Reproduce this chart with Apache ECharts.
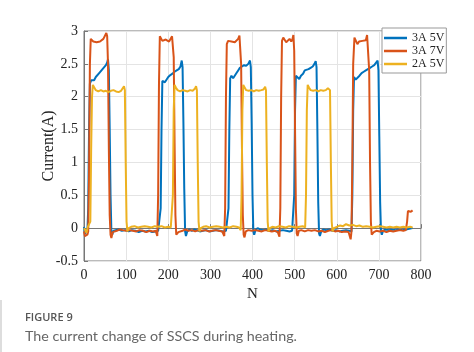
<!DOCTYPE html>
<html>
<head>
<meta charset="utf-8">
<script src="https://cdn.jsdelivr.net/npm/echarts@6/dist/echarts.min.js"></script>
<style>
html,body{margin:0;padding:0;background:#fff;}
#chart{width:474px;height:352px;}
</style>
</head>
<body>
<div id="chart"></div>
<script>
var seriesNames = ['3A 5V', '3A 7V', '2A 5V'];
var xTicks = [0, 100, 200, 300, 400, 500, 600, 700, 800];
var yTicks = [-0.5, 0, 0.5, 1, 1.5, 2, 2.5, 3];

var blueData = [[0,0.02],[2,-0.08],[5,-0.1],[8,-0.05],[10,0.3],[12,1.5],[14,2.2],[17,2.25],[20,2.22],[24,2.25],[28,2.3],[32,2.33],[36,2.36],[40,2.38],[44,2.42],[48,2.44],[52,2.48],[55,2.52],[57,2.57],[59,2.4],[61,1.5],[63,0.5],[65,-0.05],[67,-0.1],[70,-0.04],[75,-0.03],[82,-0.02],[90,-0.04],[98,-0.03],[106,-0.05],[114,-0.03],[122,-0.04],[130,-0.06],[138,-0.04],[146,-0.05],[154,-0.04],[162,-0.06],[170,-0.05],[176,-0.04],[180,-0.06],[182,0.3],[184,1.5],[186,2.24],[189,2.27],[192,2.22],[196,2.25],[200,2.3],[205,2.33],[210,2.35],[215,2.38],[220,2.4],[225,2.42],[229,2.46],[232,2.55],[234,2.45],[236,1.6],[238,0.6],[240,-0.05],[242,-0.12],[245,-0.05],[250,-0.02],[256,-0.04],[262,-0.02],[268,-0.03],[275,-0.05],[282,-0.04],[290,-0.03],[298,-0.05],[306,-0.04],[314,-0.03],[322,-0.04],[330,-0.05],[337,-0.04],[341,-0.06],[343,0.3],[345,1.5],[347,2.28],[350,2.32],[354,2.28],[358,2.3],[362,2.36],[366,2.4],[370,2.44],[375,2.46],[380,2.48],[385,2.47],[390,2.5],[394,2.55],[396,2.45],[398,1.6],[400,0.5],[402,-0.05],[404,-0.1],[407,-0.03],[412,0.0],[418,-0.02],[425,-0.03],[432,-0.02],[440,-0.04],[448,-0.03],[456,-0.05],[464,-0.04],[472,-0.03],[480,-0.04],[488,-0.05],[494,-0.04],[497,-0.06],[499,0.5],[501,1.8],[503,2.32],[507,2.3],[511,2.27],[515,2.32],[520,2.35],[524,2.4],[528,2.38],[533,2.42],[538,2.44],[543,2.46],[547,2.5],[550,2.54],[552,2.45],[554,1.5],[556,0.4],[558,-0.08],[560,-0.12],[563,-0.05],[568,-0.02],[575,-0.03],[582,-0.02],[590,-0.04],[598,-0.03],[606,-0.05],[614,-0.04],[622,-0.03],[630,-0.04],[635,-0.05],[637,0.5],[639,1.8],[641,2.3],[645,2.26],[649,2.28],[654,2.32],[659,2.36],[664,2.38],[669,2.4],[674,2.42],[679,2.44],[684,2.46],[689,2.48],[693,2.5],[697,2.55],[699,2.4],[701,1.4],[703,0.4],[705,-0.05],[707,-0.1],[710,-0.04],[716,-0.02],[724,-0.03],[732,-0.02],[740,-0.03],[748,-0.02],[756,-0.03],[764,-0.02],[772,-0.01],[780,0.0]];

var orangeData = [[0,-0.05],[2,-0.12],[5,-0.15],[8,-0.1],[10,-0.05],[12,0.8],[14,2.5],[16,2.88],[19,2.86],[22,2.84],[26,2.85],[30,2.83],[34,2.85],[38,2.84],[42,2.86],[46,2.88],[50,2.9],[53,2.97],[55,2.92],[57,2.5],[59,1.2],[61,0.2],[63,-0.1],[65,-0.15],[68,-0.06],[72,-0.03],[78,-0.04],[85,-0.02],[92,-0.03],[100,-0.04],[108,-0.03],[116,-0.04],[124,-0.05],[132,-0.03],[140,-0.04],[148,-0.06],[156,-0.04],[164,-0.05],[170,-0.04],[174,-0.12],[176,0.5],[178,2.2],[180,2.92],[183,2.94],[186,2.85],[190,2.83],[194,2.87],[198,2.88],[202,2.84],[206,2.86],[209,2.92],[211,2.94],[213,2.6],[215,1.3],[217,0.2],[219,-0.1],[221,-0.12],[224,-0.06],[228,-0.03],[234,-0.04],[240,-0.02],[248,-0.04],[256,-0.03],[264,-0.05],[272,-0.03],[280,-0.04],[288,-0.03],[296,-0.05],[304,-0.04],[312,-0.03],[320,-0.04],[328,-0.05],[333,-0.12],[335,0.3],[337,2.0],[339,2.8],[342,2.85],[346,2.83],[350,2.84],[354,2.86],[358,2.83],[362,2.85],[366,2.88],[369,2.93],[371,2.9],[373,2.5],[375,1.2],[377,0.2],[379,-0.1],[381,-0.14],[384,-0.05],[390,-0.03],[398,-0.04],[406,-0.03],[414,-0.04],[422,-0.05],[430,-0.03],[438,-0.04],[446,-0.05],[454,-0.04],[460,-0.06],[464,-0.13],[466,0.3],[468,2.0],[470,2.85],[473,2.9],[476,2.87],[480,2.83],[484,2.86],[488,2.88],[492,2.84],[495,2.88],[497,2.94],[499,2.7],[501,1.5],[503,0.3],[505,-0.08],[507,-0.12],[510,-0.04],[516,-0.03],[524,-0.05],[532,-0.03],[540,-0.04],[548,-0.03],[556,-0.05],[564,-0.04],[572,-0.06],[580,-0.04],[588,-0.03],[596,-0.05],[604,-0.04],[612,-0.06],[620,-0.05],[628,-0.06],[633,-0.17],[635,-0.05],[637,1.0],[639,2.5],[642,2.9],[645,2.88],[649,2.8],[653,2.84],[657,2.86],[661,2.85],[665,2.82],[669,2.86],[672,2.94],[675,2.92],[677,2.4],[679,1.0],[681,0.1],[683,-0.1],[685,-0.13],[688,-0.06],[694,-0.04],[702,-0.05],[710,-0.04],[718,-0.06],[726,-0.04],[734,-0.05],[742,-0.04],[750,-0.03],[758,-0.04],[764,-0.03],[767,0.1],[769,0.26],[772,0.28],[776,0.25],[780,0.27]];

var yellowData = [[0,0.0],[3,0.03],[6,-0.07],[9,0.02],[12,0.0],[15,0.1],[17,1.2],[19,2.0],[21,2.18],[24,2.15],[28,2.1],[34,2.08],[40,2.1],[46,2.08],[52,2.09],[58,2.07],[64,2.09],[70,2.1],[76,2.08],[82,2.07],[88,2.09],[92,2.12],[95,2.16],[97,2.1],[99,1.0],[101,0.1],[103,-0.05],[106,0.0],[112,0.02],[120,0.03],[128,0.01],[136,0.02],[144,0.03],[152,0.02],[160,0.01],[168,0.03],[176,0.02],[184,0.03],[192,0.01],[200,0.02],[206,0.01],[209,-0.02],[211,0.5],[213,1.8],[215,2.18],[218,2.14],[222,2.1],[228,2.08],[234,2.1],[240,2.09],[246,2.08],[252,2.1],[258,2.09],[263,2.12],[266,2.16],[268,2.1],[270,1.0],[272,0.1],[274,-0.05],[277,0.0],[283,0.02],[290,0.03],[298,0.01],[306,0.02],[314,0.03],[322,0.02],[330,0.01],[338,0.02],[346,0.01],[354,0.03],[362,0.02],[368,0.01],[372,-0.03],[374,0.5],[376,1.8],[378,2.18],[381,2.15],[385,2.1],[391,2.09],[397,2.1],[403,2.08],[409,2.1],[415,2.09],[421,2.1],[426,2.11],[430,2.15],[432,2.1],[434,1.0],[436,0.1],[438,-0.05],[441,0.0],[447,0.02],[455,0.01],[463,0.03],[471,0.02],[479,0.01],[487,0.03],[495,0.02],[503,0.01],[511,0.02],[519,0.03],[525,0.01],[527,0.5],[529,1.8],[531,2.18],[534,2.14],[538,2.1],[544,2.09],[550,2.1],[556,2.08],[562,2.1],[568,2.09],[574,2.1],[579,2.13],[582,2.16],[584,2.1],[586,1.0],[588,0.1],[590,-0.05],[593,0.0],[600,0.02],[608,0.04],[615,0.03],[622,0.06],[630,0.04],[638,0.05],[646,0.03],[654,0.04],[662,0.02],[670,0.03],[678,0.02],[686,0.01],[694,0.02],[702,0.03],[710,0.02],[718,0.01],[726,0.02],[734,0.01],[742,0.02],[750,0.01],[758,0.02],[766,0.01],[774,0.02],[780,0.01]];

var colors = ['#0072BD', '#D95319', '#EDB120'];
var serif = '"Liberation Serif", "DejaVu Serif", serif';
var allData = [blueData, orangeData, yellowData];

var chart = echarts.init(document.getElementById('chart'), null, {renderer: 'canvas'});
var option = {
  animation: false,
  backgroundColor: '#fff',
  grid: {left: 84, right: 53, top: 31, bottom: 91, show: true, borderColor: '#777', borderWidth: 1, backgroundColor: 'transparent'},
  legend: {
    orient: 'vertical', left: 382, top: 28,
    data: seriesNames,
    icon: 'rect', itemWidth: 23, itemHeight: 2.5, itemGap: 1,
    padding: [4, 2, 3, 2],
    backgroundColor: '#fff', borderColor: '#999', borderWidth: 1, borderRadius: 0,
    textStyle: {fontFamily: serif, fontSize: 12, lineHeight: 12, color: '#222'}
  },
  xAxis: {
    type: 'value', min: xTicks[0], max: xTicks[xTicks.length - 1], interval: 100,
    name: 'N', nameLocation: 'middle', nameGap: 26, nameMoveOverlap: false,
    nameTextStyle: {fontFamily: serif, fontSize: 15, color: '#222'},
    axisLine: {show: true, lineStyle: {color: '#777'}},
    axisTick: {show: true, inside: true, length: 4, lineStyle: {color: '#777'}},
    axisLabel: {fontFamily: serif, fontSize: 14, color: '#222', margin: 7},
    splitLine: {show: true, lineStyle: {color: '#e4e4e4', width: 1}}
  },
  yAxis: {
    type: 'value', min: yTicks[0], max: yTicks[yTicks.length - 1], interval: 0.5,
    name: 'Current(A)', nameLocation: 'middle', nameGap: 27, nameMoveOverlap: false,
    nameTextStyle: {fontFamily: serif, fontSize: 16, color: '#222'},
    axisLine: {show: true, lineStyle: {color: '#777'}},
    axisTick: {show: true, inside: true, length: 4, lineStyle: {color: '#777'}},
    axisLabel: {fontFamily: serif, fontSize: 14, color: '#222', margin: 6},
    splitLine: {show: true, lineStyle: {color: '#e4e4e4', width: 1}}
  },
  series: seriesNames.map(function (n, i) {
    return {
      name: n, type: 'line', data: allData[i], showSymbol: false, symbol: 'none',
      lineStyle: {color: colors[i], width: 2}, itemStyle: {color: colors[i]}
    };
  }),
  graphic: [
    {type: 'rect', left: 0, top: 300, shape: {width: 2, height: 52}, style: {fill: '#ddd'}},
    {type: 'text', left: 25, top: 312, style: {text: 'FIGURE 9', font: '600 11px "Open Sans", Lato, sans-serif', fill: '#555'}},
    {type: 'text', left: 25, top: 329, style: {text: 'The current change of SSCS during heating.', font: '14.3px Lato, "Open Sans", sans-serif', fill: '#666'}}
  ]
};
chart.setOption(option);
</script>
</body>
</html>
